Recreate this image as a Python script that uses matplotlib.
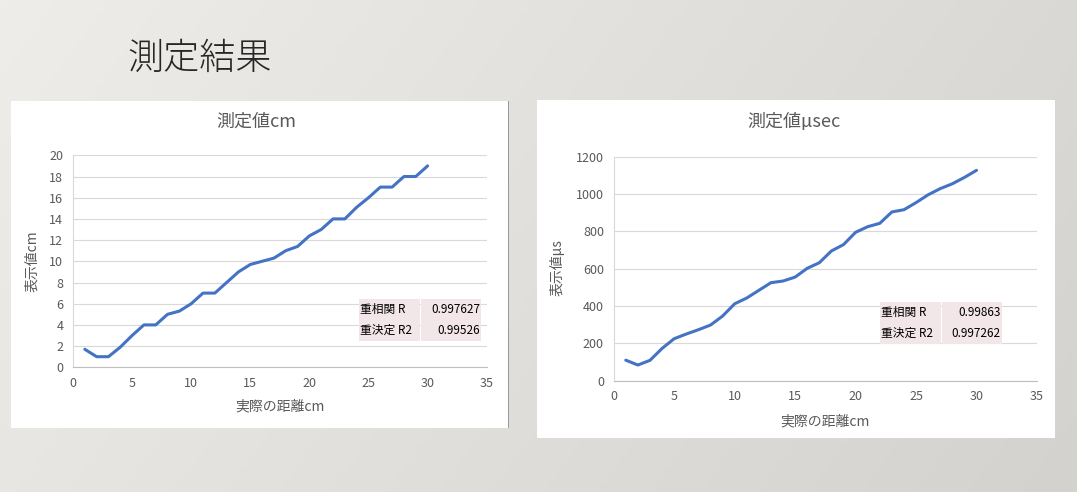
import numpy as np
import matplotlib
matplotlib.use('Agg')
import matplotlib.pyplot as plt
from matplotlib.patches import Rectangle

plt.rcParams['font.family'] = ['Noto Sans CJK JP', 'DejaVu Sans']

# データ
distance_cm = list(range(1, 31))
measured_cm = [1.7, 1, 1, 1.9, 3, 4, 4, 5, 5.3, 6,
               7, 7, 8, 9, 9.7, 10, 10.3, 11, 11.4, 12.4,
               13, 14, 14, 15.1, 16, 17, 17, 18, 18, 19]
measured_us = [110, 84, 109, 173, 225, 250, 273, 298, 346, 412,
               443, 484, 525, 534, 555, 602, 632, 695, 729, 795,
               825, 843, 904, 916, 954, 996, 1029, 1055, 1089, 1127]
stats_cm = [('重相関 R', '0.997627'), ('重決定 R2', '0.99526')]
stats_us = [('重相関 R', '0.99863'), ('重決定 R2', '0.997262')]

W, H = 1077, 492
GRAY = '#595959'
LINE = '#4472C4'

fig = plt.figure(figsize=(W / 100, H / 100), dpi=100)


def fx(px):
    return px / W


def fy(py):
    return 1 - py / H


# 背景グラデーション
bg = fig.add_axes([0, 0, 1, 1], zorder=-10)
xx = np.linspace(0, 1, 300)
yy = np.linspace(0, 1, 150)
X, Y = np.meshgrid(xx, yy)
left_c = np.array([238, 237, 234]) / 255
right_c = np.array([212, 210, 206]) / 255
t = np.clip(0.75 * X + 0.25 * Y, 0, 1)[..., None]
img = left_c * (1 - t) + right_c * t
bg.imshow(img, extent=[0, 1, 0, 1], aspect='auto', origin='upper')
bg.axis('off')

# 白パネル
fig.patches.append(Rectangle((fx(11), fy(428)), fx(508) - fx(11), fy(101) - fy(428),
                             transform=fig.transFigure, facecolor='white',
                             edgecolor='none', zorder=-5))
fig.patches.append(Rectangle((fx(508), fy(428)), fx(1.2), fy(101) - fy(428),
                             transform=fig.transFigure, facecolor='#999999',
                             edgecolor='none', zorder=-5))
fig.patches.append(Rectangle((fx(537), fy(438)), fx(1055) - fx(537), fy(100) - fy(438),
                             transform=fig.transFigure, facecolor='white',
                             edgecolor='none', zorder=-5))

fig.text(fx(200), fy(59), '測定結果', fontsize=26, fontweight='light',
         color='#262626', ha='center', va='center')


def draw_chart(rect, y, ymax, ystep, title, ylabel, title_xy, xlabel_xy, ylabel_xy):
    ax = fig.add_axes(rect)
    ax.plot(distance_cm, y, color=LINE, lw=2.2, solid_capstyle='round')
    ax.set_xlim(0, 35)
    ax.set_ylim(0, ymax)
    ax.set_xticks(range(0, 36, 5))
    ax.set_yticks(np.arange(0, ymax + 1, ystep))
    ax.set_facecolor('none')
    ax.grid(axis='y', color='#d9d9d9', lw=0.8)
    ax.set_axisbelow(True)
    for s in ['top', 'right']:
        ax.spines[s].set_visible(False)
    ax.spines['left'].set_color('#d9d9d9')
    ax.spines['bottom'].set_color('#bfbfbf')
    ax.tick_params(length=0, labelsize=9, labelcolor=GRAY, pad=7)
    fig.text(fx(title_xy[0]), fy(title_xy[1]), title, fontsize=13, color=GRAY,
             ha='center', va='center')
    fig.text(fx(xlabel_xy[0]), fy(xlabel_xy[1]), '実際の距離cm', fontsize=10, color=GRAY,
             ha='center', va='center')
    fig.text(fx(ylabel_xy[0]), fy(ylabel_xy[1]), ylabel, fontsize=10, color=GRAY,
             ha='center', va='center', rotation=90)
    return ax


def draw_stats(stats, x0, x1, x2, y0, row_h):
    for i, (lab, val) in enumerate(stats):
        top = y0 + i * (row_h + 1)
        for a, b in [(x0, x1), (x1 + 1, x2)]:
            fig.patches.append(Rectangle((fx(a), fy(top + row_h)), fx(b - a), fy(top) - fy(top + row_h),
                                         transform=fig.transFigure, facecolor='#f3e6e9',
                                         edgecolor='none', zorder=5))
        fig.text(fx(x0 + 1), fy(top + row_h / 2), lab, fontsize=8.5, color='black',
                 ha='left', va='center', zorder=6)
        fig.text(fx(x2 - 1), fy(top + row_h / 2), val, fontsize=8.5, color='black',
                 ha='right', va='center', zorder=6)


draw_chart([fx(73), fy(367.3), fx(486.7 - 73), (367.3 - 155.3) / H],
           measured_cm, 20, 2, '測定値cm', '表示値cm',
           (256, 122), (280, 406), (32, 261))
draw_chart([fx(613.7), fy(380.7), fx(1037 - 613.7), (380.7 - 156.7) / H],
           measured_us, 1200, 200, '測定値µsec', '表示値µs',
           (794, 122), (825, 421), (557, 268))

draw_stats(stats_cm, 359, 420, 481, 299, 20.5)
draw_stats(stats_us, 880, 941, 1002, 302, 20.5)

fig.savefig('out.png', dpi=100)
